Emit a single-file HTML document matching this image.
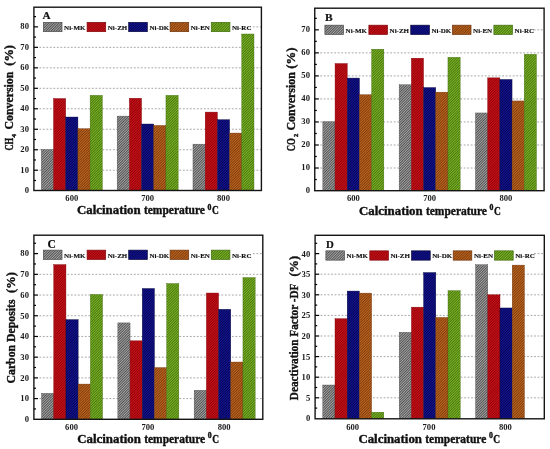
<!DOCTYPE html>
<html lang="en"><head><meta charset="utf-8"><title>Catalyst performance charts</title>
<style>html,body{margin:0;padding:0;background:#fff}body{width:550px;height:449px;overflow:hidden}</style>
</head><body>
<svg width="550" height="449" viewBox="0 0 550 449" style="display:block">
<defs>
<pattern id="hMK" width="1.8" height="1.8" patternUnits="userSpaceOnUse" patternTransform="rotate(-45)"><rect width="1.8" height="1.8" fill="#a6a6a6"/><rect width="1.8" height="0.9" fill="#505050"/></pattern>
<pattern id="hZH" width="1.8" height="1.8" patternUnits="userSpaceOnUse" patternTransform="rotate(-45)"><rect width="1.8" height="1.8" fill="#d01018"/><rect width="1.8" height="0.9" fill="#8c060c"/></pattern>
<pattern id="hDK" width="1.8" height="1.8" patternUnits="userSpaceOnUse" patternTransform="rotate(-45)"><rect width="1.8" height="1.8" fill="#1414a0"/><rect width="1.8" height="0.9" fill="#06064a"/></pattern>
<pattern id="hEN" width="1.8" height="1.8" patternUnits="userSpaceOnUse" patternTransform="rotate(-45)"><rect width="1.8" height="1.8" fill="#c0681f"/><rect width="1.8" height="0.9" fill="#7e3c0f"/></pattern>
<pattern id="hRC" width="1.8" height="1.8" patternUnits="userSpaceOnUse" patternTransform="rotate(-45)"><rect width="1.8" height="1.8" fill="#7cb426"/><rect width="1.8" height="0.9" fill="#49760f"/></pattern>
</defs>
<rect width="550" height="449" fill="#fff"/>
<g id="panelA">
<line x1="39.40" y1="170.22" x2="261.40" y2="170.22" stroke="#808080" stroke-width="0.7" stroke-dasharray="1.8 1.7"/>
<line x1="39.40" y1="149.74" x2="261.40" y2="149.74" stroke="#808080" stroke-width="0.7" stroke-dasharray="1.8 1.7"/>
<line x1="39.40" y1="129.26" x2="261.40" y2="129.26" stroke="#808080" stroke-width="0.7" stroke-dasharray="1.8 1.7"/>
<line x1="39.40" y1="108.78" x2="261.40" y2="108.78" stroke="#808080" stroke-width="0.7" stroke-dasharray="1.8 1.7"/>
<line x1="39.40" y1="88.30" x2="261.40" y2="88.30" stroke="#808080" stroke-width="0.7" stroke-dasharray="1.8 1.7"/>
<line x1="39.40" y1="67.82" x2="261.40" y2="67.82" stroke="#808080" stroke-width="0.7" stroke-dasharray="1.8 1.7"/>
<line x1="39.40" y1="47.34" x2="261.40" y2="47.34" stroke="#808080" stroke-width="0.7" stroke-dasharray="1.8 1.7"/>
<line x1="39.40" y1="26.86" x2="261.40" y2="26.86" stroke="#808080" stroke-width="0.7" stroke-dasharray="1.8 1.7"/>
<rect x="38.90" y="20.86" width="213.5" height="12" fill="#fff"/>
<rect x="41.32" y="149.50" width="12.20" height="41.00" fill="url(#hMK)" stroke="#4c4c4c" stroke-width="0.4"/>
<rect x="53.52" y="98.54" width="12.20" height="91.96" fill="url(#hZH)" stroke="#80060a" stroke-width="0.4"/>
<rect x="65.72" y="117.03" width="12.20" height="73.47" fill="url(#hDK)" stroke="#05053c" stroke-width="0.4"/>
<rect x="77.92" y="128.74" width="12.20" height="61.76" fill="url(#hEN)" stroke="#6e340c" stroke-width="0.4"/>
<rect x="90.12" y="95.35" width="12.20" height="95.15" fill="url(#hRC)" stroke="#416c0e" stroke-width="0.4"/>
<rect x="117.15" y="116.11" width="12.20" height="74.39" fill="url(#hMK)" stroke="#4c4c4c" stroke-width="0.4"/>
<rect x="129.35" y="98.23" width="12.20" height="92.27" fill="url(#hZH)" stroke="#80060a" stroke-width="0.4"/>
<rect x="141.55" y="124.02" width="12.20" height="66.48" fill="url(#hDK)" stroke="#05053c" stroke-width="0.4"/>
<rect x="153.75" y="125.46" width="12.20" height="65.04" fill="url(#hEN)" stroke="#6e340c" stroke-width="0.4"/>
<rect x="165.95" y="95.35" width="12.20" height="95.15" fill="url(#hRC)" stroke="#416c0e" stroke-width="0.4"/>
<rect x="192.98" y="144.16" width="12.20" height="46.34" fill="url(#hMK)" stroke="#4c4c4c" stroke-width="0.4"/>
<rect x="205.18" y="112.10" width="12.20" height="78.40" fill="url(#hZH)" stroke="#80060a" stroke-width="0.4"/>
<rect x="217.38" y="119.70" width="12.20" height="70.80" fill="url(#hDK)" stroke="#05053c" stroke-width="0.4"/>
<rect x="229.58" y="133.06" width="12.20" height="57.44" fill="url(#hEN)" stroke="#6e340c" stroke-width="0.4"/>
<rect x="241.78" y="34.01" width="12.20" height="156.49" fill="url(#hRC)" stroke="#416c0e" stroke-width="0.4"/>
<rect x="33.90" y="7.20" width="227.50" height="183.30" fill="none" stroke="#141414" stroke-width="1.4"/>
<text x="29.30" y="193.10" text-anchor="end" font-size="8.6" letter-spacing="0.2" font-family="'Liberation Serif','DejaVu Serif',serif" font-weight="bold" fill="#1a1a1a">0</text>
<line x1="33.90" y1="180.46" x2="36.00" y2="180.46" stroke="#000" stroke-width="1.2"/>
<line x1="33.90" y1="170.22" x2="38.00" y2="170.22" stroke="#000" stroke-width="1.2"/>
<text x="29.30" y="172.62" text-anchor="end" font-size="8.6" letter-spacing="0.2" font-family="'Liberation Serif','DejaVu Serif',serif" font-weight="bold" fill="#1a1a1a">10</text>
<line x1="33.90" y1="159.98" x2="36.00" y2="159.98" stroke="#000" stroke-width="1.2"/>
<line x1="33.90" y1="149.74" x2="38.00" y2="149.74" stroke="#000" stroke-width="1.2"/>
<text x="29.30" y="152.14" text-anchor="end" font-size="8.6" letter-spacing="0.2" font-family="'Liberation Serif','DejaVu Serif',serif" font-weight="bold" fill="#1a1a1a">20</text>
<line x1="33.90" y1="139.50" x2="36.00" y2="139.50" stroke="#000" stroke-width="1.2"/>
<line x1="33.90" y1="129.26" x2="38.00" y2="129.26" stroke="#000" stroke-width="1.2"/>
<text x="29.30" y="131.66" text-anchor="end" font-size="8.6" letter-spacing="0.2" font-family="'Liberation Serif','DejaVu Serif',serif" font-weight="bold" fill="#1a1a1a">30</text>
<line x1="33.90" y1="119.02" x2="36.00" y2="119.02" stroke="#000" stroke-width="1.2"/>
<line x1="33.90" y1="108.78" x2="38.00" y2="108.78" stroke="#000" stroke-width="1.2"/>
<text x="29.30" y="111.18" text-anchor="end" font-size="8.6" letter-spacing="0.2" font-family="'Liberation Serif','DejaVu Serif',serif" font-weight="bold" fill="#1a1a1a">40</text>
<line x1="33.90" y1="98.54" x2="36.00" y2="98.54" stroke="#000" stroke-width="1.2"/>
<line x1="33.90" y1="88.30" x2="38.00" y2="88.30" stroke="#000" stroke-width="1.2"/>
<text x="29.30" y="90.70" text-anchor="end" font-size="8.6" letter-spacing="0.2" font-family="'Liberation Serif','DejaVu Serif',serif" font-weight="bold" fill="#1a1a1a">50</text>
<line x1="33.90" y1="78.06" x2="36.00" y2="78.06" stroke="#000" stroke-width="1.2"/>
<line x1="33.90" y1="67.82" x2="38.00" y2="67.82" stroke="#000" stroke-width="1.2"/>
<text x="29.30" y="70.22" text-anchor="end" font-size="8.6" letter-spacing="0.2" font-family="'Liberation Serif','DejaVu Serif',serif" font-weight="bold" fill="#1a1a1a">60</text>
<line x1="33.90" y1="57.58" x2="36.00" y2="57.58" stroke="#000" stroke-width="1.2"/>
<line x1="33.90" y1="47.34" x2="38.00" y2="47.34" stroke="#000" stroke-width="1.2"/>
<text x="29.30" y="49.74" text-anchor="end" font-size="8.6" letter-spacing="0.2" font-family="'Liberation Serif','DejaVu Serif',serif" font-weight="bold" fill="#1a1a1a">70</text>
<line x1="33.90" y1="37.10" x2="36.00" y2="37.10" stroke="#000" stroke-width="1.2"/>
<line x1="33.90" y1="26.86" x2="38.00" y2="26.86" stroke="#000" stroke-width="1.2"/>
<text x="29.30" y="29.26" text-anchor="end" font-size="8.6" letter-spacing="0.2" font-family="'Liberation Serif','DejaVu Serif',serif" font-weight="bold" fill="#1a1a1a">80</text>
<line x1="33.90" y1="16.62" x2="36.00" y2="16.62" stroke="#000" stroke-width="1.2"/>
<text x="71.82" y="200.60" text-anchor="middle" font-size="8.6" font-family="'Liberation Serif','DejaVu Serif',serif" font-weight="bold" fill="#1a1a1a">600</text>
<text x="147.65" y="200.60" text-anchor="middle" font-size="8.6" font-family="'Liberation Serif','DejaVu Serif',serif" font-weight="bold" fill="#1a1a1a">700</text>
<text x="223.48" y="200.60" text-anchor="middle" font-size="8.6" font-family="'Liberation Serif','DejaVu Serif',serif" font-weight="bold" fill="#1a1a1a">800</text>
<text x="77.05" y="214.30" font-size="12.4" font-family="'Liberation Serif','DejaVu Serif',serif" font-weight="bold" fill="#111" stroke="#111" stroke-width="0.38" textLength="63.6" lengthAdjust="spacingAndGlyphs">Calcination</text>
<text x="143.95" y="214.30" font-size="12.4" font-family="'Liberation Serif','DejaVu Serif',serif" font-weight="bold" fill="#111" stroke="#111" stroke-width="0.38" textLength="61.0" lengthAdjust="spacingAndGlyphs">temperature</text>
<text x="207.55" y="210.10" font-size="7.8" font-family="'Liberation Serif','DejaVu Serif',serif" font-weight="bold" fill="#111" stroke="#111" stroke-width="0.38">0</text>
<text x="211.95" y="214.30" font-size="12.4" font-family="'Liberation Serif','DejaVu Serif',serif" font-weight="bold" fill="#111" stroke="#111" stroke-width="0.38" textLength="6.8" lengthAdjust="spacingAndGlyphs">C</text>
<text transform="translate(13.30,150.60) rotate(-90)" font-size="12.3" font-family="'Liberation Serif','DejaVu Serif',serif" font-weight="bold" fill="#111" stroke="#111" stroke-width="0.38" textLength="12.60" lengthAdjust="spacingAndGlyphs">CH</text>
<text transform="translate(16.40,137.40) rotate(-90)" font-size="5.4" font-family="'Liberation Serif','DejaVu Serif',serif" font-weight="bold" fill="#111" stroke="#111" stroke-width="0.38" textLength="3.40" lengthAdjust="spacingAndGlyphs">4</text>
<text transform="translate(13.30,129.40) rotate(-90)" font-size="12.3" font-family="'Liberation Serif','DejaVu Serif',serif" font-weight="bold" fill="#111" stroke="#111" stroke-width="0.38" textLength="57.70" lengthAdjust="spacingAndGlyphs">Conversion</text>
<text transform="translate(13.30,65.70) rotate(-90)" font-size="12.3" font-family="'Liberation Serif','DejaVu Serif',serif" font-weight="bold" fill="#111" stroke="#111" stroke-width="0.38" textLength="20.70" lengthAdjust="spacingAndGlyphs">(%)</text>
<text x="42.60" y="18.50" font-size="11.2" font-family="'Liberation Serif','DejaVu Serif',serif" font-weight="bold" fill="#111" stroke="#111" stroke-width="0.2">A</text>
<rect x="43.40" y="22.36" width="18.6" height="9.3" fill="url(#hMK)" stroke="#4c4c4c" stroke-width="0.7"/>
<text x="64.10" y="29.86" font-size="7" font-family="'Liberation Serif','DejaVu Serif',serif" font-weight="bold" fill="#111" stroke="#111" stroke-width="0.15">Ni-MK</text>
<rect x="87.10" y="22.36" width="18.6" height="9.3" fill="url(#hZH)" stroke="#80060a" stroke-width="0.7"/>
<text x="107.80" y="29.86" font-size="7" font-family="'Liberation Serif','DejaVu Serif',serif" font-weight="bold" fill="#111" stroke="#111" stroke-width="0.15">Ni-ZH</text>
<rect x="128.70" y="22.36" width="18.6" height="9.3" fill="url(#hDK)" stroke="#05053c" stroke-width="0.7"/>
<text x="149.40" y="29.86" font-size="7" font-family="'Liberation Serif','DejaVu Serif',serif" font-weight="bold" fill="#111" stroke="#111" stroke-width="0.15">Ni-DK</text>
<rect x="170.10" y="22.36" width="18.6" height="9.3" fill="url(#hEN)" stroke="#6e340c" stroke-width="0.7"/>
<text x="190.80" y="29.86" font-size="7" font-family="'Liberation Serif','DejaVu Serif',serif" font-weight="bold" fill="#111" stroke="#111" stroke-width="0.15">Ni-EN</text>
<rect x="211.30" y="22.36" width="18.6" height="9.3" fill="url(#hRC)" stroke="#416c0e" stroke-width="0.7"/>
<text x="232.00" y="29.86" font-size="7" font-family="'Liberation Serif','DejaVu Serif',serif" font-weight="bold" fill="#111" stroke="#111" stroke-width="0.15">Ni-RC</text>
</g>
<g id="panelB">
<line x1="320.25" y1="168.02" x2="544.10" y2="168.02" stroke="#808080" stroke-width="0.7" stroke-dasharray="1.8 1.7"/>
<line x1="320.25" y1="144.99" x2="544.10" y2="144.99" stroke="#808080" stroke-width="0.7" stroke-dasharray="1.8 1.7"/>
<line x1="320.25" y1="121.96" x2="544.10" y2="121.96" stroke="#808080" stroke-width="0.7" stroke-dasharray="1.8 1.7"/>
<line x1="320.25" y1="98.93" x2="544.10" y2="98.93" stroke="#808080" stroke-width="0.7" stroke-dasharray="1.8 1.7"/>
<line x1="320.25" y1="75.90" x2="544.10" y2="75.90" stroke="#808080" stroke-width="0.7" stroke-dasharray="1.8 1.7"/>
<line x1="320.25" y1="52.87" x2="544.10" y2="52.87" stroke="#808080" stroke-width="0.7" stroke-dasharray="1.8 1.7"/>
<line x1="320.25" y1="29.84" x2="544.10" y2="29.84" stroke="#808080" stroke-width="0.7" stroke-dasharray="1.8 1.7"/>
<rect x="319.75" y="23.84" width="213.5" height="12" fill="#fff"/>
<rect x="322.85" y="121.74" width="12.20" height="68.96" fill="url(#hMK)" stroke="#4c4c4c" stroke-width="0.4"/>
<rect x="335.05" y="63.53" width="12.20" height="127.17" fill="url(#hZH)" stroke="#80060a" stroke-width="0.4"/>
<rect x="347.25" y="78.08" width="12.20" height="112.62" fill="url(#hDK)" stroke="#05053c" stroke-width="0.4"/>
<rect x="359.45" y="94.71" width="12.20" height="95.99" fill="url(#hEN)" stroke="#6e340c" stroke-width="0.4"/>
<rect x="371.65" y="49.20" width="12.20" height="141.50" fill="url(#hRC)" stroke="#416c0e" stroke-width="0.4"/>
<rect x="399.15" y="84.78" width="12.20" height="105.92" fill="url(#hMK)" stroke="#4c4c4c" stroke-width="0.4"/>
<rect x="411.35" y="58.21" width="12.20" height="132.49" fill="url(#hZH)" stroke="#80060a" stroke-width="0.4"/>
<rect x="423.55" y="87.55" width="12.20" height="103.15" fill="url(#hDK)" stroke="#05053c" stroke-width="0.4"/>
<rect x="435.75" y="92.17" width="12.20" height="98.53" fill="url(#hEN)" stroke="#6e340c" stroke-width="0.4"/>
<rect x="447.95" y="57.29" width="12.20" height="133.41" fill="url(#hRC)" stroke="#416c0e" stroke-width="0.4"/>
<rect x="475.45" y="112.96" width="12.20" height="77.74" fill="url(#hMK)" stroke="#4c4c4c" stroke-width="0.4"/>
<rect x="487.65" y="77.85" width="12.20" height="112.85" fill="url(#hZH)" stroke="#80060a" stroke-width="0.4"/>
<rect x="499.85" y="79.46" width="12.20" height="111.23" fill="url(#hDK)" stroke="#05053c" stroke-width="0.4"/>
<rect x="512.05" y="100.95" width="12.20" height="89.75" fill="url(#hEN)" stroke="#6e340c" stroke-width="0.4"/>
<rect x="524.25" y="54.29" width="12.20" height="136.41" fill="url(#hRC)" stroke="#416c0e" stroke-width="0.4"/>
<rect x="314.75" y="8.20" width="229.35" height="182.50" fill="none" stroke="#141414" stroke-width="1.4"/>
<text x="310.15" y="193.45" text-anchor="end" font-size="8.6" letter-spacing="0.2" font-family="'Liberation Serif','DejaVu Serif',serif" font-weight="bold" fill="#1a1a1a">0</text>
<line x1="314.75" y1="179.54" x2="316.85" y2="179.54" stroke="#000" stroke-width="1.2"/>
<line x1="314.75" y1="168.02" x2="318.85" y2="168.02" stroke="#000" stroke-width="1.2"/>
<text x="310.15" y="170.42" text-anchor="end" font-size="8.6" letter-spacing="0.2" font-family="'Liberation Serif','DejaVu Serif',serif" font-weight="bold" fill="#1a1a1a">10</text>
<line x1="314.75" y1="156.50" x2="316.85" y2="156.50" stroke="#000" stroke-width="1.2"/>
<line x1="314.75" y1="144.99" x2="318.85" y2="144.99" stroke="#000" stroke-width="1.2"/>
<text x="310.15" y="147.39" text-anchor="end" font-size="8.6" letter-spacing="0.2" font-family="'Liberation Serif','DejaVu Serif',serif" font-weight="bold" fill="#1a1a1a">20</text>
<line x1="314.75" y1="133.48" x2="316.85" y2="133.48" stroke="#000" stroke-width="1.2"/>
<line x1="314.75" y1="121.96" x2="318.85" y2="121.96" stroke="#000" stroke-width="1.2"/>
<text x="310.15" y="124.36" text-anchor="end" font-size="8.6" letter-spacing="0.2" font-family="'Liberation Serif','DejaVu Serif',serif" font-weight="bold" fill="#1a1a1a">30</text>
<line x1="314.75" y1="110.45" x2="316.85" y2="110.45" stroke="#000" stroke-width="1.2"/>
<line x1="314.75" y1="98.93" x2="318.85" y2="98.93" stroke="#000" stroke-width="1.2"/>
<text x="310.15" y="101.33" text-anchor="end" font-size="8.6" letter-spacing="0.2" font-family="'Liberation Serif','DejaVu Serif',serif" font-weight="bold" fill="#1a1a1a">40</text>
<line x1="314.75" y1="87.42" x2="316.85" y2="87.42" stroke="#000" stroke-width="1.2"/>
<line x1="314.75" y1="75.90" x2="318.85" y2="75.90" stroke="#000" stroke-width="1.2"/>
<text x="310.15" y="78.30" text-anchor="end" font-size="8.6" letter-spacing="0.2" font-family="'Liberation Serif','DejaVu Serif',serif" font-weight="bold" fill="#1a1a1a">50</text>
<line x1="314.75" y1="64.39" x2="316.85" y2="64.39" stroke="#000" stroke-width="1.2"/>
<line x1="314.75" y1="52.87" x2="318.85" y2="52.87" stroke="#000" stroke-width="1.2"/>
<text x="310.15" y="55.27" text-anchor="end" font-size="8.6" letter-spacing="0.2" font-family="'Liberation Serif','DejaVu Serif',serif" font-weight="bold" fill="#1a1a1a">60</text>
<line x1="314.75" y1="41.36" x2="316.85" y2="41.36" stroke="#000" stroke-width="1.2"/>
<line x1="314.75" y1="29.84" x2="318.85" y2="29.84" stroke="#000" stroke-width="1.2"/>
<text x="310.15" y="32.24" text-anchor="end" font-size="8.6" letter-spacing="0.2" font-family="'Liberation Serif','DejaVu Serif',serif" font-weight="bold" fill="#1a1a1a">70</text>
<line x1="314.75" y1="18.33" x2="316.85" y2="18.33" stroke="#000" stroke-width="1.2"/>
<text x="353.35" y="200.80" text-anchor="middle" font-size="8.6" font-family="'Liberation Serif','DejaVu Serif',serif" font-weight="bold" fill="#1a1a1a">600</text>
<text x="429.65" y="200.80" text-anchor="middle" font-size="8.6" font-family="'Liberation Serif','DejaVu Serif',serif" font-weight="bold" fill="#1a1a1a">700</text>
<text x="505.95" y="200.80" text-anchor="middle" font-size="8.6" font-family="'Liberation Serif','DejaVu Serif',serif" font-weight="bold" fill="#1a1a1a">800</text>
<text x="359.05" y="214.50" font-size="12.4" font-family="'Liberation Serif','DejaVu Serif',serif" font-weight="bold" fill="#111" stroke="#111" stroke-width="0.38" textLength="63.6" lengthAdjust="spacingAndGlyphs">Calcination</text>
<text x="425.95" y="214.50" font-size="12.4" font-family="'Liberation Serif','DejaVu Serif',serif" font-weight="bold" fill="#111" stroke="#111" stroke-width="0.38" textLength="61.0" lengthAdjust="spacingAndGlyphs">temperature</text>
<text x="489.55" y="210.30" font-size="7.8" font-family="'Liberation Serif','DejaVu Serif',serif" font-weight="bold" fill="#111" stroke="#111" stroke-width="0.38">0</text>
<text x="493.95" y="214.50" font-size="12.4" font-family="'Liberation Serif','DejaVu Serif',serif" font-weight="bold" fill="#111" stroke="#111" stroke-width="0.38" textLength="6.8" lengthAdjust="spacingAndGlyphs">C</text>
<text transform="translate(294.90,151.30) rotate(-90)" font-size="12.3" font-family="'Liberation Serif','DejaVu Serif',serif" font-weight="bold" fill="#111" stroke="#111" stroke-width="0.38" textLength="13.20" lengthAdjust="spacingAndGlyphs">CO</text>
<text transform="translate(298.00,137.00) rotate(-90)" font-size="5.4" font-family="'Liberation Serif','DejaVu Serif',serif" font-weight="bold" fill="#111" stroke="#111" stroke-width="0.38" textLength="3.20" lengthAdjust="spacingAndGlyphs">2</text>
<text transform="translate(294.90,130.60) rotate(-90)" font-size="12.3" font-family="'Liberation Serif','DejaVu Serif',serif" font-weight="bold" fill="#111" stroke="#111" stroke-width="0.38" textLength="58.60" lengthAdjust="spacingAndGlyphs">Conversion</text>
<text transform="translate(294.90,68.70) rotate(-90)" font-size="12.3" font-family="'Liberation Serif','DejaVu Serif',serif" font-weight="bold" fill="#111" stroke="#111" stroke-width="0.38" textLength="21.30" lengthAdjust="spacingAndGlyphs">(%)</text>
<text x="325.00" y="21.20" font-size="11.4" font-family="'Liberation Serif','DejaVu Serif',serif" font-weight="bold" fill="#111" stroke="#111" stroke-width="0.2">B</text>
<rect x="324.90" y="25.19" width="18.6" height="9.3" fill="url(#hMK)" stroke="#4c4c4c" stroke-width="0.7"/>
<text x="345.60" y="32.69" font-size="7" font-family="'Liberation Serif','DejaVu Serif',serif" font-weight="bold" fill="#111" stroke="#111" stroke-width="0.15">Ni-MK</text>
<rect x="368.88" y="25.19" width="18.6" height="9.3" fill="url(#hZH)" stroke="#80060a" stroke-width="0.7"/>
<text x="389.58" y="32.69" font-size="7" font-family="'Liberation Serif','DejaVu Serif',serif" font-weight="bold" fill="#111" stroke="#111" stroke-width="0.15">Ni-ZH</text>
<rect x="410.75" y="25.19" width="18.6" height="9.3" fill="url(#hDK)" stroke="#05053c" stroke-width="0.7"/>
<text x="431.45" y="32.69" font-size="7" font-family="'Liberation Serif','DejaVu Serif',serif" font-weight="bold" fill="#111" stroke="#111" stroke-width="0.15">Ni-DK</text>
<rect x="452.41" y="25.19" width="18.6" height="9.3" fill="url(#hEN)" stroke="#6e340c" stroke-width="0.7"/>
<text x="473.11" y="32.69" font-size="7" font-family="'Liberation Serif','DejaVu Serif',serif" font-weight="bold" fill="#111" stroke="#111" stroke-width="0.15">Ni-EN</text>
<rect x="493.88" y="25.19" width="18.6" height="9.3" fill="url(#hRC)" stroke="#416c0e" stroke-width="0.7"/>
<text x="514.58" y="32.69" font-size="7" font-family="'Liberation Serif','DejaVu Serif',serif" font-weight="bold" fill="#111" stroke="#111" stroke-width="0.15">Ni-RC</text>
</g>
<g id="panelC">
<line x1="39.40" y1="398.59" x2="262.80" y2="398.59" stroke="#808080" stroke-width="0.7" stroke-dasharray="1.8 1.7"/>
<line x1="39.40" y1="377.88" x2="262.80" y2="377.88" stroke="#808080" stroke-width="0.7" stroke-dasharray="1.8 1.7"/>
<line x1="39.40" y1="357.17" x2="262.80" y2="357.17" stroke="#808080" stroke-width="0.7" stroke-dasharray="1.8 1.7"/>
<line x1="39.40" y1="336.46" x2="262.80" y2="336.46" stroke="#808080" stroke-width="0.7" stroke-dasharray="1.8 1.7"/>
<line x1="39.40" y1="315.75" x2="262.80" y2="315.75" stroke="#808080" stroke-width="0.7" stroke-dasharray="1.8 1.7"/>
<line x1="39.40" y1="295.04" x2="262.80" y2="295.04" stroke="#808080" stroke-width="0.7" stroke-dasharray="1.8 1.7"/>
<line x1="39.40" y1="274.33" x2="262.80" y2="274.33" stroke="#808080" stroke-width="0.7" stroke-dasharray="1.8 1.7"/>
<line x1="39.40" y1="253.62" x2="262.80" y2="253.62" stroke="#808080" stroke-width="0.7" stroke-dasharray="1.8 1.7"/>
<rect x="38.90" y="247.62" width="213.5" height="12" fill="#fff"/>
<rect x="41.55" y="393.35" width="12.20" height="25.95" fill="url(#hMK)" stroke="#4c4c4c" stroke-width="0.4"/>
<rect x="53.75" y="264.60" width="12.20" height="154.70" fill="url(#hZH)" stroke="#80060a" stroke-width="0.4"/>
<rect x="65.95" y="319.60" width="12.20" height="99.70" fill="url(#hDK)" stroke="#05053c" stroke-width="0.4"/>
<rect x="78.15" y="384.08" width="12.20" height="35.22" fill="url(#hEN)" stroke="#6e340c" stroke-width="0.4"/>
<rect x="90.35" y="294.47" width="12.20" height="124.83" fill="url(#hRC)" stroke="#416c0e" stroke-width="0.4"/>
<rect x="117.85" y="322.90" width="12.20" height="96.40" fill="url(#hMK)" stroke="#4c4c4c" stroke-width="0.4"/>
<rect x="130.05" y="340.82" width="12.20" height="78.48" fill="url(#hZH)" stroke="#80060a" stroke-width="0.4"/>
<rect x="142.25" y="288.50" width="12.20" height="130.80" fill="url(#hDK)" stroke="#05053c" stroke-width="0.4"/>
<rect x="154.45" y="367.60" width="12.20" height="51.70" fill="url(#hEN)" stroke="#6e340c" stroke-width="0.4"/>
<rect x="166.65" y="283.55" width="12.20" height="135.75" fill="url(#hRC)" stroke="#416c0e" stroke-width="0.4"/>
<rect x="194.15" y="390.26" width="12.20" height="29.04" fill="url(#hMK)" stroke="#4c4c4c" stroke-width="0.4"/>
<rect x="206.35" y="293.03" width="12.20" height="126.27" fill="url(#hZH)" stroke="#80060a" stroke-width="0.4"/>
<rect x="218.55" y="309.30" width="12.20" height="110.00" fill="url(#hDK)" stroke="#05053c" stroke-width="0.4"/>
<rect x="230.75" y="362.04" width="12.20" height="57.26" fill="url(#hEN)" stroke="#6e340c" stroke-width="0.4"/>
<rect x="242.95" y="277.58" width="12.20" height="141.72" fill="url(#hRC)" stroke="#416c0e" stroke-width="0.4"/>
<rect x="33.90" y="235.20" width="228.90" height="184.10" fill="none" stroke="#141414" stroke-width="1.4"/>
<text x="29.30" y="422.10" text-anchor="end" font-size="8.6" letter-spacing="0.2" font-family="'Liberation Serif','DejaVu Serif',serif" font-weight="bold" fill="#1a1a1a">0</text>
<line x1="33.90" y1="408.94" x2="36.00" y2="408.94" stroke="#000" stroke-width="1.2"/>
<line x1="33.90" y1="398.59" x2="38.00" y2="398.59" stroke="#000" stroke-width="1.2"/>
<text x="29.30" y="401.39" text-anchor="end" font-size="8.6" letter-spacing="0.2" font-family="'Liberation Serif','DejaVu Serif',serif" font-weight="bold" fill="#1a1a1a">10</text>
<line x1="33.90" y1="388.24" x2="36.00" y2="388.24" stroke="#000" stroke-width="1.2"/>
<line x1="33.90" y1="377.88" x2="38.00" y2="377.88" stroke="#000" stroke-width="1.2"/>
<text x="29.30" y="380.68" text-anchor="end" font-size="8.6" letter-spacing="0.2" font-family="'Liberation Serif','DejaVu Serif',serif" font-weight="bold" fill="#1a1a1a">20</text>
<line x1="33.90" y1="367.52" x2="36.00" y2="367.52" stroke="#000" stroke-width="1.2"/>
<line x1="33.90" y1="357.17" x2="38.00" y2="357.17" stroke="#000" stroke-width="1.2"/>
<text x="29.30" y="359.97" text-anchor="end" font-size="8.6" letter-spacing="0.2" font-family="'Liberation Serif','DejaVu Serif',serif" font-weight="bold" fill="#1a1a1a">30</text>
<line x1="33.90" y1="346.81" x2="36.00" y2="346.81" stroke="#000" stroke-width="1.2"/>
<line x1="33.90" y1="336.46" x2="38.00" y2="336.46" stroke="#000" stroke-width="1.2"/>
<text x="29.30" y="339.26" text-anchor="end" font-size="8.6" letter-spacing="0.2" font-family="'Liberation Serif','DejaVu Serif',serif" font-weight="bold" fill="#1a1a1a">40</text>
<line x1="33.90" y1="326.11" x2="36.00" y2="326.11" stroke="#000" stroke-width="1.2"/>
<line x1="33.90" y1="315.75" x2="38.00" y2="315.75" stroke="#000" stroke-width="1.2"/>
<text x="29.30" y="318.55" text-anchor="end" font-size="8.6" letter-spacing="0.2" font-family="'Liberation Serif','DejaVu Serif',serif" font-weight="bold" fill="#1a1a1a">50</text>
<line x1="33.90" y1="305.39" x2="36.00" y2="305.39" stroke="#000" stroke-width="1.2"/>
<line x1="33.90" y1="295.04" x2="38.00" y2="295.04" stroke="#000" stroke-width="1.2"/>
<text x="29.30" y="297.84" text-anchor="end" font-size="8.6" letter-spacing="0.2" font-family="'Liberation Serif','DejaVu Serif',serif" font-weight="bold" fill="#1a1a1a">60</text>
<line x1="33.90" y1="284.69" x2="36.00" y2="284.69" stroke="#000" stroke-width="1.2"/>
<line x1="33.90" y1="274.33" x2="38.00" y2="274.33" stroke="#000" stroke-width="1.2"/>
<text x="29.30" y="277.13" text-anchor="end" font-size="8.6" letter-spacing="0.2" font-family="'Liberation Serif','DejaVu Serif',serif" font-weight="bold" fill="#1a1a1a">70</text>
<line x1="33.90" y1="263.98" x2="36.00" y2="263.98" stroke="#000" stroke-width="1.2"/>
<line x1="33.90" y1="253.62" x2="38.00" y2="253.62" stroke="#000" stroke-width="1.2"/>
<text x="29.30" y="256.42" text-anchor="end" font-size="8.6" letter-spacing="0.2" font-family="'Liberation Serif','DejaVu Serif',serif" font-weight="bold" fill="#1a1a1a">80</text>
<line x1="33.90" y1="243.26" x2="36.00" y2="243.26" stroke="#000" stroke-width="1.2"/>
<text x="71.55" y="429.60" text-anchor="middle" font-size="8.6" font-family="'Liberation Serif','DejaVu Serif',serif" font-weight="bold" fill="#1a1a1a">600</text>
<text x="147.85" y="429.60" text-anchor="middle" font-size="8.6" font-family="'Liberation Serif','DejaVu Serif',serif" font-weight="bold" fill="#1a1a1a">700</text>
<text x="224.15" y="429.60" text-anchor="middle" font-size="8.6" font-family="'Liberation Serif','DejaVu Serif',serif" font-weight="bold" fill="#1a1a1a">800</text>
<text x="77.25" y="442.60" font-size="12.4" font-family="'Liberation Serif','DejaVu Serif',serif" font-weight="bold" fill="#111" stroke="#111" stroke-width="0.38" textLength="63.6" lengthAdjust="spacingAndGlyphs">Calcination</text>
<text x="144.15" y="442.60" font-size="12.4" font-family="'Liberation Serif','DejaVu Serif',serif" font-weight="bold" fill="#111" stroke="#111" stroke-width="0.38" textLength="61.0" lengthAdjust="spacingAndGlyphs">temperature</text>
<text x="207.75" y="438.40" font-size="7.8" font-family="'Liberation Serif','DejaVu Serif',serif" font-weight="bold" fill="#111" stroke="#111" stroke-width="0.38">0</text>
<text x="212.15" y="442.60" font-size="12.4" font-family="'Liberation Serif','DejaVu Serif',serif" font-weight="bold" fill="#111" stroke="#111" stroke-width="0.38" textLength="6.8" lengthAdjust="spacingAndGlyphs">C</text>
<text transform="translate(15.30,383.50) rotate(-90)" font-size="12.3" font-family="'Liberation Serif','DejaVu Serif',serif" font-weight="bold" fill="#111" stroke="#111" stroke-width="0.38" textLength="84.00" lengthAdjust="spacingAndGlyphs">Carbon Deposits</text>
<text transform="translate(15.30,292.90) rotate(-90)" font-size="12.3" font-family="'Liberation Serif','DejaVu Serif',serif" font-weight="bold" fill="#111" stroke="#111" stroke-width="0.38" textLength="20.80" lengthAdjust="spacingAndGlyphs">(%)</text>
<text x="47.60" y="247.60" font-size="11.6" font-family="'Liberation Serif','DejaVu Serif',serif" font-weight="bold" fill="#111" stroke="#111" stroke-width="0.2">C</text>
<rect x="43.40" y="250.15" width="18.6" height="9.3" fill="url(#hMK)" stroke="#4c4c4c" stroke-width="0.7"/>
<text x="64.10" y="257.65" font-size="7" font-family="'Liberation Serif','DejaVu Serif',serif" font-weight="bold" fill="#111" stroke="#111" stroke-width="0.15">Ni-MK</text>
<rect x="87.10" y="250.15" width="18.6" height="9.3" fill="url(#hZH)" stroke="#80060a" stroke-width="0.7"/>
<text x="107.80" y="257.65" font-size="7" font-family="'Liberation Serif','DejaVu Serif',serif" font-weight="bold" fill="#111" stroke="#111" stroke-width="0.15">Ni-ZH</text>
<rect x="128.70" y="250.15" width="18.6" height="9.3" fill="url(#hDK)" stroke="#05053c" stroke-width="0.7"/>
<text x="149.40" y="257.65" font-size="7" font-family="'Liberation Serif','DejaVu Serif',serif" font-weight="bold" fill="#111" stroke="#111" stroke-width="0.15">Ni-DK</text>
<rect x="170.10" y="250.15" width="18.6" height="9.3" fill="url(#hEN)" stroke="#6e340c" stroke-width="0.7"/>
<text x="190.80" y="257.65" font-size="7" font-family="'Liberation Serif','DejaVu Serif',serif" font-weight="bold" fill="#111" stroke="#111" stroke-width="0.15">Ni-EN</text>
<rect x="211.30" y="250.15" width="18.6" height="9.3" fill="url(#hRC)" stroke="#416c0e" stroke-width="0.7"/>
<text x="232.00" y="257.65" font-size="7" font-family="'Liberation Serif','DejaVu Serif',serif" font-weight="bold" fill="#111" stroke="#111" stroke-width="0.15">Ni-RC</text>
</g>
<g id="panelD">
<line x1="320.60" y1="397.80" x2="544.30" y2="397.80" stroke="#808080" stroke-width="0.7" stroke-dasharray="1.8 1.7"/>
<line x1="320.60" y1="377.20" x2="544.30" y2="377.20" stroke="#808080" stroke-width="0.7" stroke-dasharray="1.8 1.7"/>
<line x1="320.60" y1="356.60" x2="544.30" y2="356.60" stroke="#808080" stroke-width="0.7" stroke-dasharray="1.8 1.7"/>
<line x1="320.60" y1="336.00" x2="544.30" y2="336.00" stroke="#808080" stroke-width="0.7" stroke-dasharray="1.8 1.7"/>
<line x1="320.60" y1="315.40" x2="544.30" y2="315.40" stroke="#808080" stroke-width="0.7" stroke-dasharray="1.8 1.7"/>
<line x1="320.60" y1="294.80" x2="544.30" y2="294.80" stroke="#808080" stroke-width="0.7" stroke-dasharray="1.8 1.7"/>
<line x1="320.60" y1="274.20" x2="544.30" y2="274.20" stroke="#808080" stroke-width="0.7" stroke-dasharray="1.8 1.7"/>
<line x1="320.60" y1="253.60" x2="544.30" y2="253.60" stroke="#808080" stroke-width="0.7" stroke-dasharray="1.8 1.7"/>
<rect x="320.10" y="247.60" width="213.5" height="12" fill="#fff"/>
<rect x="322.80" y="385.02" width="12.20" height="33.78" fill="url(#hMK)" stroke="#4c4c4c" stroke-width="0.4"/>
<rect x="335.00" y="318.68" width="12.20" height="100.12" fill="url(#hZH)" stroke="#80060a" stroke-width="0.4"/>
<rect x="347.20" y="291.08" width="12.20" height="127.72" fill="url(#hDK)" stroke="#05053c" stroke-width="0.4"/>
<rect x="359.40" y="293.14" width="12.20" height="125.66" fill="url(#hEN)" stroke="#6e340c" stroke-width="0.4"/>
<rect x="371.60" y="412.21" width="12.20" height="6.59" fill="url(#hRC)" stroke="#416c0e" stroke-width="0.4"/>
<rect x="399.20" y="332.28" width="12.20" height="86.52" fill="url(#hMK)" stroke="#4c4c4c" stroke-width="0.4"/>
<rect x="411.40" y="307.15" width="12.20" height="111.65" fill="url(#hZH)" stroke="#80060a" stroke-width="0.4"/>
<rect x="423.60" y="272.54" width="12.20" height="146.26" fill="url(#hDK)" stroke="#05053c" stroke-width="0.4"/>
<rect x="435.80" y="317.45" width="12.20" height="101.35" fill="url(#hEN)" stroke="#6e340c" stroke-width="0.4"/>
<rect x="448.00" y="290.67" width="12.20" height="128.13" fill="url(#hRC)" stroke="#416c0e" stroke-width="0.4"/>
<rect x="475.60" y="264.71" width="12.20" height="154.09" fill="url(#hMK)" stroke="#4c4c4c" stroke-width="0.4"/>
<rect x="487.80" y="294.79" width="12.20" height="124.01" fill="url(#hZH)" stroke="#80060a" stroke-width="0.4"/>
<rect x="500.00" y="307.97" width="12.20" height="110.83" fill="url(#hDK)" stroke="#05053c" stroke-width="0.4"/>
<rect x="512.20" y="265.12" width="12.20" height="153.68" fill="url(#hEN)" stroke="#6e340c" stroke-width="0.4"/>
<rect x="315.10" y="235.30" width="229.20" height="183.50" fill="none" stroke="#141414" stroke-width="1.4"/>
<text x="310.50" y="421.30" text-anchor="end" font-size="8.6" letter-spacing="0.2" font-family="'Liberation Serif','DejaVu Serif',serif" font-weight="bold" fill="#1a1a1a">0</text>
<line x1="315.10" y1="408.10" x2="317.20" y2="408.10" stroke="#000" stroke-width="1.2"/>
<line x1="315.10" y1="397.80" x2="319.20" y2="397.80" stroke="#000" stroke-width="1.2"/>
<text x="310.50" y="400.70" text-anchor="end" font-size="8.6" letter-spacing="0.2" font-family="'Liberation Serif','DejaVu Serif',serif" font-weight="bold" fill="#1a1a1a">5</text>
<line x1="315.10" y1="387.50" x2="317.20" y2="387.50" stroke="#000" stroke-width="1.2"/>
<line x1="315.10" y1="377.20" x2="319.20" y2="377.20" stroke="#000" stroke-width="1.2"/>
<text x="310.50" y="380.10" text-anchor="end" font-size="8.6" letter-spacing="0.2" font-family="'Liberation Serif','DejaVu Serif',serif" font-weight="bold" fill="#1a1a1a">10</text>
<line x1="315.10" y1="366.90" x2="317.20" y2="366.90" stroke="#000" stroke-width="1.2"/>
<line x1="315.10" y1="356.60" x2="319.20" y2="356.60" stroke="#000" stroke-width="1.2"/>
<text x="310.50" y="359.50" text-anchor="end" font-size="8.6" letter-spacing="0.2" font-family="'Liberation Serif','DejaVu Serif',serif" font-weight="bold" fill="#1a1a1a">15</text>
<line x1="315.10" y1="346.30" x2="317.20" y2="346.30" stroke="#000" stroke-width="1.2"/>
<line x1="315.10" y1="336.00" x2="319.20" y2="336.00" stroke="#000" stroke-width="1.2"/>
<text x="310.50" y="338.90" text-anchor="end" font-size="8.6" letter-spacing="0.2" font-family="'Liberation Serif','DejaVu Serif',serif" font-weight="bold" fill="#1a1a1a">20</text>
<line x1="315.10" y1="325.70" x2="317.20" y2="325.70" stroke="#000" stroke-width="1.2"/>
<line x1="315.10" y1="315.40" x2="319.20" y2="315.40" stroke="#000" stroke-width="1.2"/>
<text x="310.50" y="318.30" text-anchor="end" font-size="8.6" letter-spacing="0.2" font-family="'Liberation Serif','DejaVu Serif',serif" font-weight="bold" fill="#1a1a1a">25</text>
<line x1="315.10" y1="305.10" x2="317.20" y2="305.10" stroke="#000" stroke-width="1.2"/>
<line x1="315.10" y1="294.80" x2="319.20" y2="294.80" stroke="#000" stroke-width="1.2"/>
<text x="310.50" y="297.70" text-anchor="end" font-size="8.6" letter-spacing="0.2" font-family="'Liberation Serif','DejaVu Serif',serif" font-weight="bold" fill="#1a1a1a">30</text>
<line x1="315.10" y1="284.50" x2="317.20" y2="284.50" stroke="#000" stroke-width="1.2"/>
<line x1="315.10" y1="274.20" x2="319.20" y2="274.20" stroke="#000" stroke-width="1.2"/>
<text x="310.50" y="277.10" text-anchor="end" font-size="8.6" letter-spacing="0.2" font-family="'Liberation Serif','DejaVu Serif',serif" font-weight="bold" fill="#1a1a1a">35</text>
<line x1="315.10" y1="263.90" x2="317.20" y2="263.90" stroke="#000" stroke-width="1.2"/>
<line x1="315.10" y1="253.60" x2="319.20" y2="253.60" stroke="#000" stroke-width="1.2"/>
<text x="310.50" y="256.50" text-anchor="end" font-size="8.6" letter-spacing="0.2" font-family="'Liberation Serif','DejaVu Serif',serif" font-weight="bold" fill="#1a1a1a">40</text>
<line x1="315.10" y1="243.30" x2="317.20" y2="243.30" stroke="#000" stroke-width="1.2"/>
<text x="352.60" y="429.60" text-anchor="middle" font-size="8.6" font-family="'Liberation Serif','DejaVu Serif',serif" font-weight="bold" fill="#1a1a1a">600</text>
<text x="429.00" y="429.60" text-anchor="middle" font-size="8.6" font-family="'Liberation Serif','DejaVu Serif',serif" font-weight="bold" fill="#1a1a1a">700</text>
<text x="505.40" y="429.60" text-anchor="middle" font-size="8.6" font-family="'Liberation Serif','DejaVu Serif',serif" font-weight="bold" fill="#1a1a1a">800</text>
<text x="358.40" y="442.60" font-size="12.4" font-family="'Liberation Serif','DejaVu Serif',serif" font-weight="bold" fill="#111" stroke="#111" stroke-width="0.38" textLength="63.6" lengthAdjust="spacingAndGlyphs">Calcination</text>
<text x="425.30" y="442.60" font-size="12.4" font-family="'Liberation Serif','DejaVu Serif',serif" font-weight="bold" fill="#111" stroke="#111" stroke-width="0.38" textLength="61.0" lengthAdjust="spacingAndGlyphs">temperature</text>
<text x="488.90" y="438.40" font-size="7.8" font-family="'Liberation Serif','DejaVu Serif',serif" font-weight="bold" fill="#111" stroke="#111" stroke-width="0.38">0</text>
<text x="493.30" y="442.60" font-size="12.4" font-family="'Liberation Serif','DejaVu Serif',serif" font-weight="bold" fill="#111" stroke="#111" stroke-width="0.38" textLength="6.8" lengthAdjust="spacingAndGlyphs">C</text>
<text transform="translate(297.70,400.20) rotate(-90)" font-size="12.3" font-family="'Liberation Serif','DejaVu Serif',serif" font-weight="bold" fill="#111" stroke="#111" stroke-width="0.38" textLength="116.70" lengthAdjust="spacingAndGlyphs">Deactivation Factor -DF</text>
<text transform="translate(297.70,276.50) rotate(-90)" font-size="12.3" font-family="'Liberation Serif','DejaVu Serif',serif" font-weight="bold" fill="#111" stroke="#111" stroke-width="0.38" textLength="20.50" lengthAdjust="spacingAndGlyphs">(%)</text>
<text x="326.00" y="248.00" font-size="10.8" font-family="'Liberation Serif','DejaVu Serif',serif" font-weight="bold" fill="#111" stroke="#111" stroke-width="0.2">D</text>
<rect x="325.90" y="250.85" width="18.6" height="9.3" fill="url(#hMK)" stroke="#4c4c4c" stroke-width="0.7"/>
<text x="346.60" y="258.35" font-size="7" font-family="'Liberation Serif','DejaVu Serif',serif" font-weight="bold" fill="#111" stroke="#111" stroke-width="0.15">Ni-MK</text>
<rect x="369.81" y="250.85" width="18.6" height="9.3" fill="url(#hZH)" stroke="#80060a" stroke-width="0.7"/>
<text x="390.51" y="258.35" font-size="7" font-family="'Liberation Serif','DejaVu Serif',serif" font-weight="bold" fill="#111" stroke="#111" stroke-width="0.15">Ni-ZH</text>
<rect x="411.61" y="250.85" width="18.6" height="9.3" fill="url(#hDK)" stroke="#05053c" stroke-width="0.7"/>
<text x="432.31" y="258.35" font-size="7" font-family="'Liberation Serif','DejaVu Serif',serif" font-weight="bold" fill="#111" stroke="#111" stroke-width="0.15">Ni-DK</text>
<rect x="453.20" y="250.85" width="18.6" height="9.3" fill="url(#hEN)" stroke="#6e340c" stroke-width="0.7"/>
<text x="473.90" y="258.35" font-size="7" font-family="'Liberation Serif','DejaVu Serif',serif" font-weight="bold" fill="#111" stroke="#111" stroke-width="0.15">Ni-EN</text>
<rect x="494.60" y="250.85" width="18.6" height="9.3" fill="url(#hRC)" stroke="#416c0e" stroke-width="0.7"/>
<text x="515.30" y="258.35" font-size="7" font-family="'Liberation Serif','DejaVu Serif',serif" font-weight="bold" fill="#111" stroke="#111" stroke-width="0.15">Ni-RC</text>
</g>
</svg>
</body></html>
